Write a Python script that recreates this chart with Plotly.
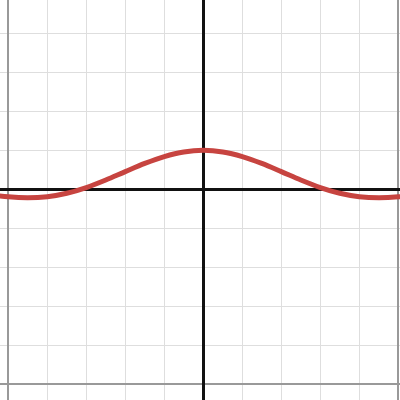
import plotly.graph_objects as go

# values
x_vals = [-5.5, -5.0, -4.5, -4.0, -3.5, -3.0, -2.5, -2.0, -1.5, -1.0, -0.5, 0.0,
          0.5, 1.0, 1.5, 2.0, 2.5, 3.0, 3.5, 4.0, 4.5, 5.0, 5.5]
y_vals = [-0.128, -0.192, -0.217, -0.189, -0.100, 0.047, 0.239, 0.455, 0.665, 0.841, 0.959, 1.0,
          0.959, 0.841, 0.665, 0.455, 0.239, 0.047, -0.100, -0.189, -0.217, -0.192, -0.128]

fig = go.Figure()
fig.add_trace(go.Scatter(
    x=x_vals, y=y_vals, mode="lines",
    line=dict(color="#c74440", width=5, shape="spline", smoothing=1.0),
    hoverinfo="skip", showlegend=False,
))

axis_common = dict(
    showticklabels=False, ticks="",
    dtick=5, tick0=0,
    showgrid=True, gridcolor="#999999", gridwidth=1.6,
    minor=dict(dtick=1, tick0=0, showgrid=True, gridcolor="#dedede", gridwidth=1.3),
    zeroline=True, zerolinecolor="#111111", zerolinewidth=2.8,
    showline=False, fixedrange=True,
)

fig.update_layout(
    width=400, height=400,
    margin=dict(l=0, r=0, t=0, b=0),
    paper_bgcolor="white", plot_bgcolor="white",
    xaxis=dict(range=[-5.213, 5.044], **axis_common),
    yaxis=dict(range=[-5.40, 4.854], **axis_common),
)

fig.write_html(
    "out.html",
    config={"displayModeBar": False},
    post_script="document.body.style.margin='0';document.body.style.overflow='hidden';",
)
